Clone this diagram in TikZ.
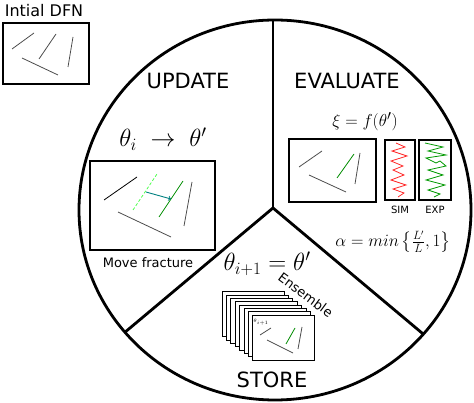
\documentclass[tikz,border=0pt]{standalone}
\usepackage{amsmath}
\usepackage[no-math]{fontspec}
\setmainfont{DejaVu Sans}
\usetikzlibrary{calc}

\begin{document}
\begin{tikzpicture}[x=1pt, y=-1pt,
  rim/.style={line width=2.8pt},
  frame/.style={draw, line width=1.4pt},
  crack/.style={gray!60!black, line width=0.8pt},
  shifted/.style={green!55!black, line width=0.8pt},
  title/.style={font=\fontsize{21}{25}\selectfont}]
  \useasboundingbox (0,0) rectangle (474,403);

  %--- Kreis mit drei Sektoren
  \coordinate (C) at (273,208);
  \coordinate (M) at (275,210);
  \begin{scope}
    \clip (M) ellipse [x radius=196, y radius=190];
    \draw[rim] (C) -- ++(270:260);
    \draw[rim] (C) -- ++(140:260);
    \draw[rim] (C) -- ++(40:260);
  \end{scope}
  \draw[rim] (M) ellipse [x radius=196, y radius=190];

  %--- Ausgangsnetz oben links
  \node[font=\fontsize{16}{19}\selectfont] (dfn) at (44,11) {Intial DFN};
  \draw[frame] (3,23) rectangle (89,84);
  \draw[crack] (12,49) -- (34,33);
  \draw[crack] (39,59) -- (56,34);
  \draw[crack] (22,58) -- (58,75);
  \draw[crack] (68,67) -- (73,37);

  %--- UPDATE
  \node[title] (update) at (188,81) {UPDATE};
  \node[font=\fontsize{25}{30}\selectfont] (proposal) at (163,139) {$\theta_i \;\rightarrow\; \theta'$};
  \draw[frame] (90,161) rectangle (215,250);
  \draw[crack, black] (104,200) -- (137,177);
  \draw[crack] (118,212) -- (171,237);
  \draw[crack] (184,226) -- (192,182);
  \draw[shifted, densely dashed, green!70] (133,210) -- (157,174);
  \draw[shifted] (159,217) -- (183,181);
  \coordinate (from) at (146,192);
  \coordinate (to) at (171,199);
  \draw[->, teal, line width=0.9pt] (from) -- (to);
  \node[font=\fontsize{13}{15}\selectfont] (move) at (148,263) {Move fracture};

  %--- EVALUATE
  \node[title] (evaluate) at (347,81) {EVALUATE};
  \node[font=\fontsize{19}{23}\selectfont] (forward) at (365,122) {$\xi = f(\theta')$};
  \draw[frame] (289,139) rectangle (376,202);
  \draw[crack] (299,167) -- (322,151);
  \draw[crack] (309,175) -- (346,192);
  \draw[shifted] (337,178) -- (354,154);
  \draw[crack] (355,184) -- (360,153);

  % Kurven: Simulation und Experiment
  \draw[frame] (385,140) rectangle (415,200);
  \draw[frame] (419,140) rectangle (451,200);
  \draw[red!85, line width=0.8pt] (396,143) -- (405,147) -- (392,151) -- (407,156) -- (391,161)
    -- (403,166) -- (393,170) -- (404,175) -- (391,180) -- (406,185) -- (393,189) -- (404,193) -- (398,197);
  \draw[green!60!black, line width=0.8pt] (425,143) -- (443,147) -- (428,151) -- (446,155) -- (426,158)
    -- (436,163) -- (440,161) -- (446,166) -- (428,170) -- (443,175) -- (426,180) -- (445,185)
    -- (428,190) -- (440,194) -- (434,197);
  \node[font=\fontsize{10}{12}\selectfont] (sim) at (400,210) {SIM};
  \node[font=\fontsize{10}{12}\selectfont] (exp) at (435,210) {EXP};
  \node[font=\fontsize{17}{21}\selectfont] (accept) at (393,242) {$\alpha = min\left\{\frac{L'}{L},1\right\}$};

  %--- STORE
  \node[font=\fontsize{24}{28}\selectfont] (keep) at (267,264) {$\theta_{i+1} = \theta'$};
  \foreach \k in {0,...,7}
    \draw[frame, line width=1pt, fill=white] ($(222,292)+(\k*4.4,\k*3.3)$) rectangle ++(62,45);
  \node[font=\tiny, inner sep=0pt] (member) at (261,322) {$\theta_{i+1}$};
  \draw[crack] (260,335) -- (271,328);
  \draw[crack] (267,340) -- (293,353);
  \draw[shifted] (286,344) -- (295,328);
  \draw[crack] (298,349) -- (302,327);
  \node[rotate=-36.6, anchor=south, inner sep=1pt, font=\fontsize{13}{15}\selectfont] (ensemble) at (302,300) {Ensemble};
  \node[title] (store) at (272,380) {STORE};
\end{tikzpicture}
\end{document}
